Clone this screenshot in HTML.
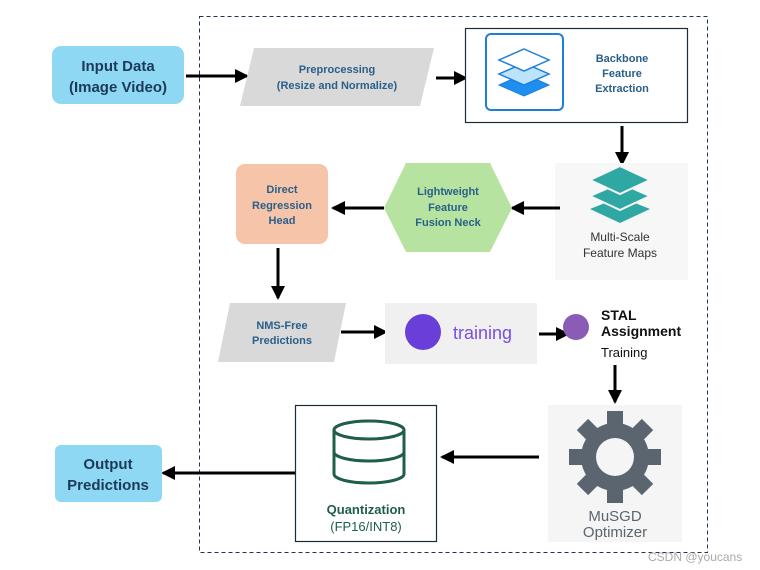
<!DOCTYPE html>
<html><head><meta charset="utf-8"><style>
body{margin:0;background:#fff}
svg{display:block;font-family:"Liberation Sans",Arial,sans-serif}
</style></head><body>
<svg width="760" height="570" viewBox="0 0 760 570" xmlns="http://www.w3.org/2000/svg">
<defs>
<marker id="ah" markerWidth="14" markerHeight="14" refX="12" refY="7" orient="auto" markerUnits="userSpaceOnUse">
<path d="M0,0 L14,7 L0,14 z" fill="#000"/></marker>
</defs>
<rect x="0" y="0" width="760" height="570" fill="#fff"/>
<rect x="199.5" y="16.5" width="508" height="536" fill="none" stroke="#1f3550" stroke-width="1" stroke-dasharray="4,3"/>

<rect x="52" y="46" width="132" height="58" rx="9" fill="#8fd8f4"/>
<text x="118" y="71" text-anchor="middle" font-size="15" font-weight="bold" fill="#1b3a57">Input Data</text>
<text x="118" y="92" text-anchor="middle" font-size="15" font-weight="bold" fill="#1b3a57">(Image Video)</text>
<line x1="186" y1="76" x2="247" y2="76" stroke="#000" stroke-width="3" marker-end="url(#ah)"/>

<polygon points="254,48 434,48 420,106 240,106" fill="#d9d9d9"/>
<text x="337" y="73" text-anchor="middle" font-size="11" font-weight="bold" fill="#2a5f8a">Preprocessing</text>
<text x="337" y="89" text-anchor="middle" font-size="11" font-weight="bold" fill="#2a5f8a">(Resize and Normalize)</text>
<line x1="436" y1="78" x2="466" y2="78" stroke="#000" stroke-width="3" marker-end="url(#ah)"/>

<rect x="465.5" y="28.5" width="222" height="94" fill="#fff" stroke="#1b2b3e" stroke-width="1.2"/>
<rect x="486" y="34" width="77" height="76" rx="5" fill="#fff" stroke="#1e7fd8" stroke-width="2"/>
<polygon points="524,74 549,85 524,96 499,85" fill="#1e8ef0" stroke="#1e7fd8"/>
<polygon points="524,63 549,74 524,85 499,74" fill="#bde3fb" stroke="#1e7fd8" stroke-width="1.5"/>
<polygon points="524,49 549,60 524,71 499,60" fill="#fff" stroke="#1e7fd8" stroke-width="1.5"/>
<text x="622" y="62" text-anchor="middle" font-size="11" font-weight="bold" fill="#2a5f8a">Backbone</text>
<text x="622" y="77" text-anchor="middle" font-size="11" font-weight="bold" fill="#2a5f8a">Feature</text>
<text x="622" y="92" text-anchor="middle" font-size="11" font-weight="bold" fill="#2a5f8a">Extraction</text>
<line x1="622" y1="126" x2="622" y2="164" stroke="#000" stroke-width="3" marker-end="url(#ah)"/>

<rect x="555" y="163" width="133" height="117" fill="#f7f7f7"/>
<polygon points="620,197 650,209 620,223 590,209" fill="#2fa8a4"/>
<polygon points="620,183 650,196 620,210 590,196" fill="#2fa8a4" stroke="#f7f7f7" stroke-width="2"/>
<polygon points="620,166 650,180 620,194 590,180" fill="#2fa8a4" stroke="#f7f7f7" stroke-width="2"/>
<text x="620" y="241" text-anchor="middle" font-size="12" fill="#333">Multi-Scale</text>
<text x="620" y="257" text-anchor="middle" font-size="12" fill="#333">Feature Maps</text>
<line x1="560" y1="208" x2="512" y2="208" stroke="#000" stroke-width="3" marker-end="url(#ah)"/>

<polygon points="406,163 490,163 512,208 490,252 406,252 384,208" fill="#b6e4a0"/>
<text x="448" y="195" text-anchor="middle" font-size="11" font-weight="bold" fill="#2a5f8a">Lightweight</text>
<text x="448" y="211" text-anchor="middle" font-size="11" font-weight="bold" fill="#2a5f8a">Feature</text>
<text x="448" y="226" text-anchor="middle" font-size="11" font-weight="bold" fill="#2a5f8a">Fusion Neck</text>
<line x1="384" y1="208" x2="333" y2="208" stroke="#000" stroke-width="3" marker-end="url(#ah)"/>

<rect x="236" y="164" width="92" height="80" rx="9" fill="#f6c4a8"/>
<text x="282" y="193" text-anchor="middle" font-size="11" font-weight="bold" fill="#2a5f8a">Direct</text>
<text x="282" y="209" text-anchor="middle" font-size="11" font-weight="bold" fill="#2a5f8a">Regression</text>
<text x="282" y="224" text-anchor="middle" font-size="11" font-weight="bold" fill="#2a5f8a">Head</text>
<line x1="278" y1="248" x2="278" y2="298" stroke="#000" stroke-width="3" marker-end="url(#ah)"/>

<polygon points="230,303 346,303 334,362 218,362" fill="#d9d9d9"/>
<text x="282" y="329" text-anchor="middle" font-size="11" font-weight="bold" fill="#2a5f8a">NMS-Free</text>
<text x="282" y="344" text-anchor="middle" font-size="11" font-weight="bold" fill="#2a5f8a">Predictions</text>
<line x1="341" y1="332" x2="386" y2="332" stroke="#000" stroke-width="3" marker-end="url(#ah)"/>

<rect x="385" y="303" width="152" height="61" fill="#f0f0f0"/>
<circle cx="423" cy="332" r="18" fill="#6a3fd9"/>
<text x="453" y="339" font-size="18" fill="#7a4ee0">training</text>
<line x1="539" y1="334" x2="568" y2="334" stroke="#000" stroke-width="3" marker-end="url(#ah)"/>
<circle cx="576" cy="327" r="13" fill="#8a5cb8"/>
<text x="601" y="320" font-size="14" font-weight="bold" fill="#111">STAL</text>
<text x="601" y="336" font-size="14" font-weight="bold" fill="#111">Assignment</text>
<text x="601" y="357" font-size="13" fill="#111">Training</text>
<line x1="615" y1="365" x2="615" y2="402" stroke="#000" stroke-width="3" marker-end="url(#ah)"/>

<rect x="548" y="405" width="134" height="137" fill="#f5f5f5"/>
<g transform="translate(615,457)" fill="#5b6570">
<circle r="34"/>
<rect x="-8" y="-46" width="16" height="16"/>
<rect x="-8" y="30" width="16" height="16"/>
<rect x="-46" y="-8" width="16" height="16"/>
<rect x="30" y="-8" width="16" height="16"/>
<rect x="-8" y="-46" width="16" height="16" transform="rotate(45)"/>
<rect x="-8" y="-46" width="16" height="16" transform="rotate(135)"/>
<rect x="-8" y="-46" width="16" height="16" transform="rotate(225)"/>
<rect x="-8" y="-46" width="16" height="16" transform="rotate(315)"/>
<circle r="19" fill="#f5f5f5"/>
</g>
<text x="615" y="521" text-anchor="middle" font-size="15" fill="#5b6570">MuSGD</text>
<text x="615" y="537" text-anchor="middle" font-size="15" fill="#5b6570">Optimizer</text>
<line x1="539" y1="457" x2="442" y2="457" stroke="#000" stroke-width="3" marker-end="url(#ah)"/>

<rect x="295.5" y="405.5" width="141" height="136" fill="#fff" stroke="#1b2b3e" stroke-width="1.2"/>
<g fill="none" stroke="#1f5e4c" stroke-width="3">
<ellipse cx="369" cy="430" rx="35" ry="9"/>
<path d="M334,430 V474 A35,9 0 0 0 404,474 V430"/>
<path d="M334,452 A35,9 0 0 0 404,452"/>
</g>
<text x="366" y="514" text-anchor="middle" font-size="13" font-weight="bold" fill="#1f5e4c">Quantization</text>
<text x="366" y="531" text-anchor="middle" font-size="13" fill="#1f5e4c">(FP16/INT8)</text>
<line x1="295" y1="473" x2="163" y2="473" stroke="#000" stroke-width="3" marker-end="url(#ah)"/>

<rect x="55" y="445" width="107" height="57" rx="6" fill="#8fd8f4"/>
<text x="108" y="469" text-anchor="middle" font-size="15" font-weight="bold" fill="#1b3a57">Output</text>
<text x="108" y="490" text-anchor="middle" font-size="15" font-weight="bold" fill="#1b3a57">Predictions</text>

<text x="648" y="561" font-size="12" fill="#aaa">CSDN @youcans</text>
</svg>
</body></html>
